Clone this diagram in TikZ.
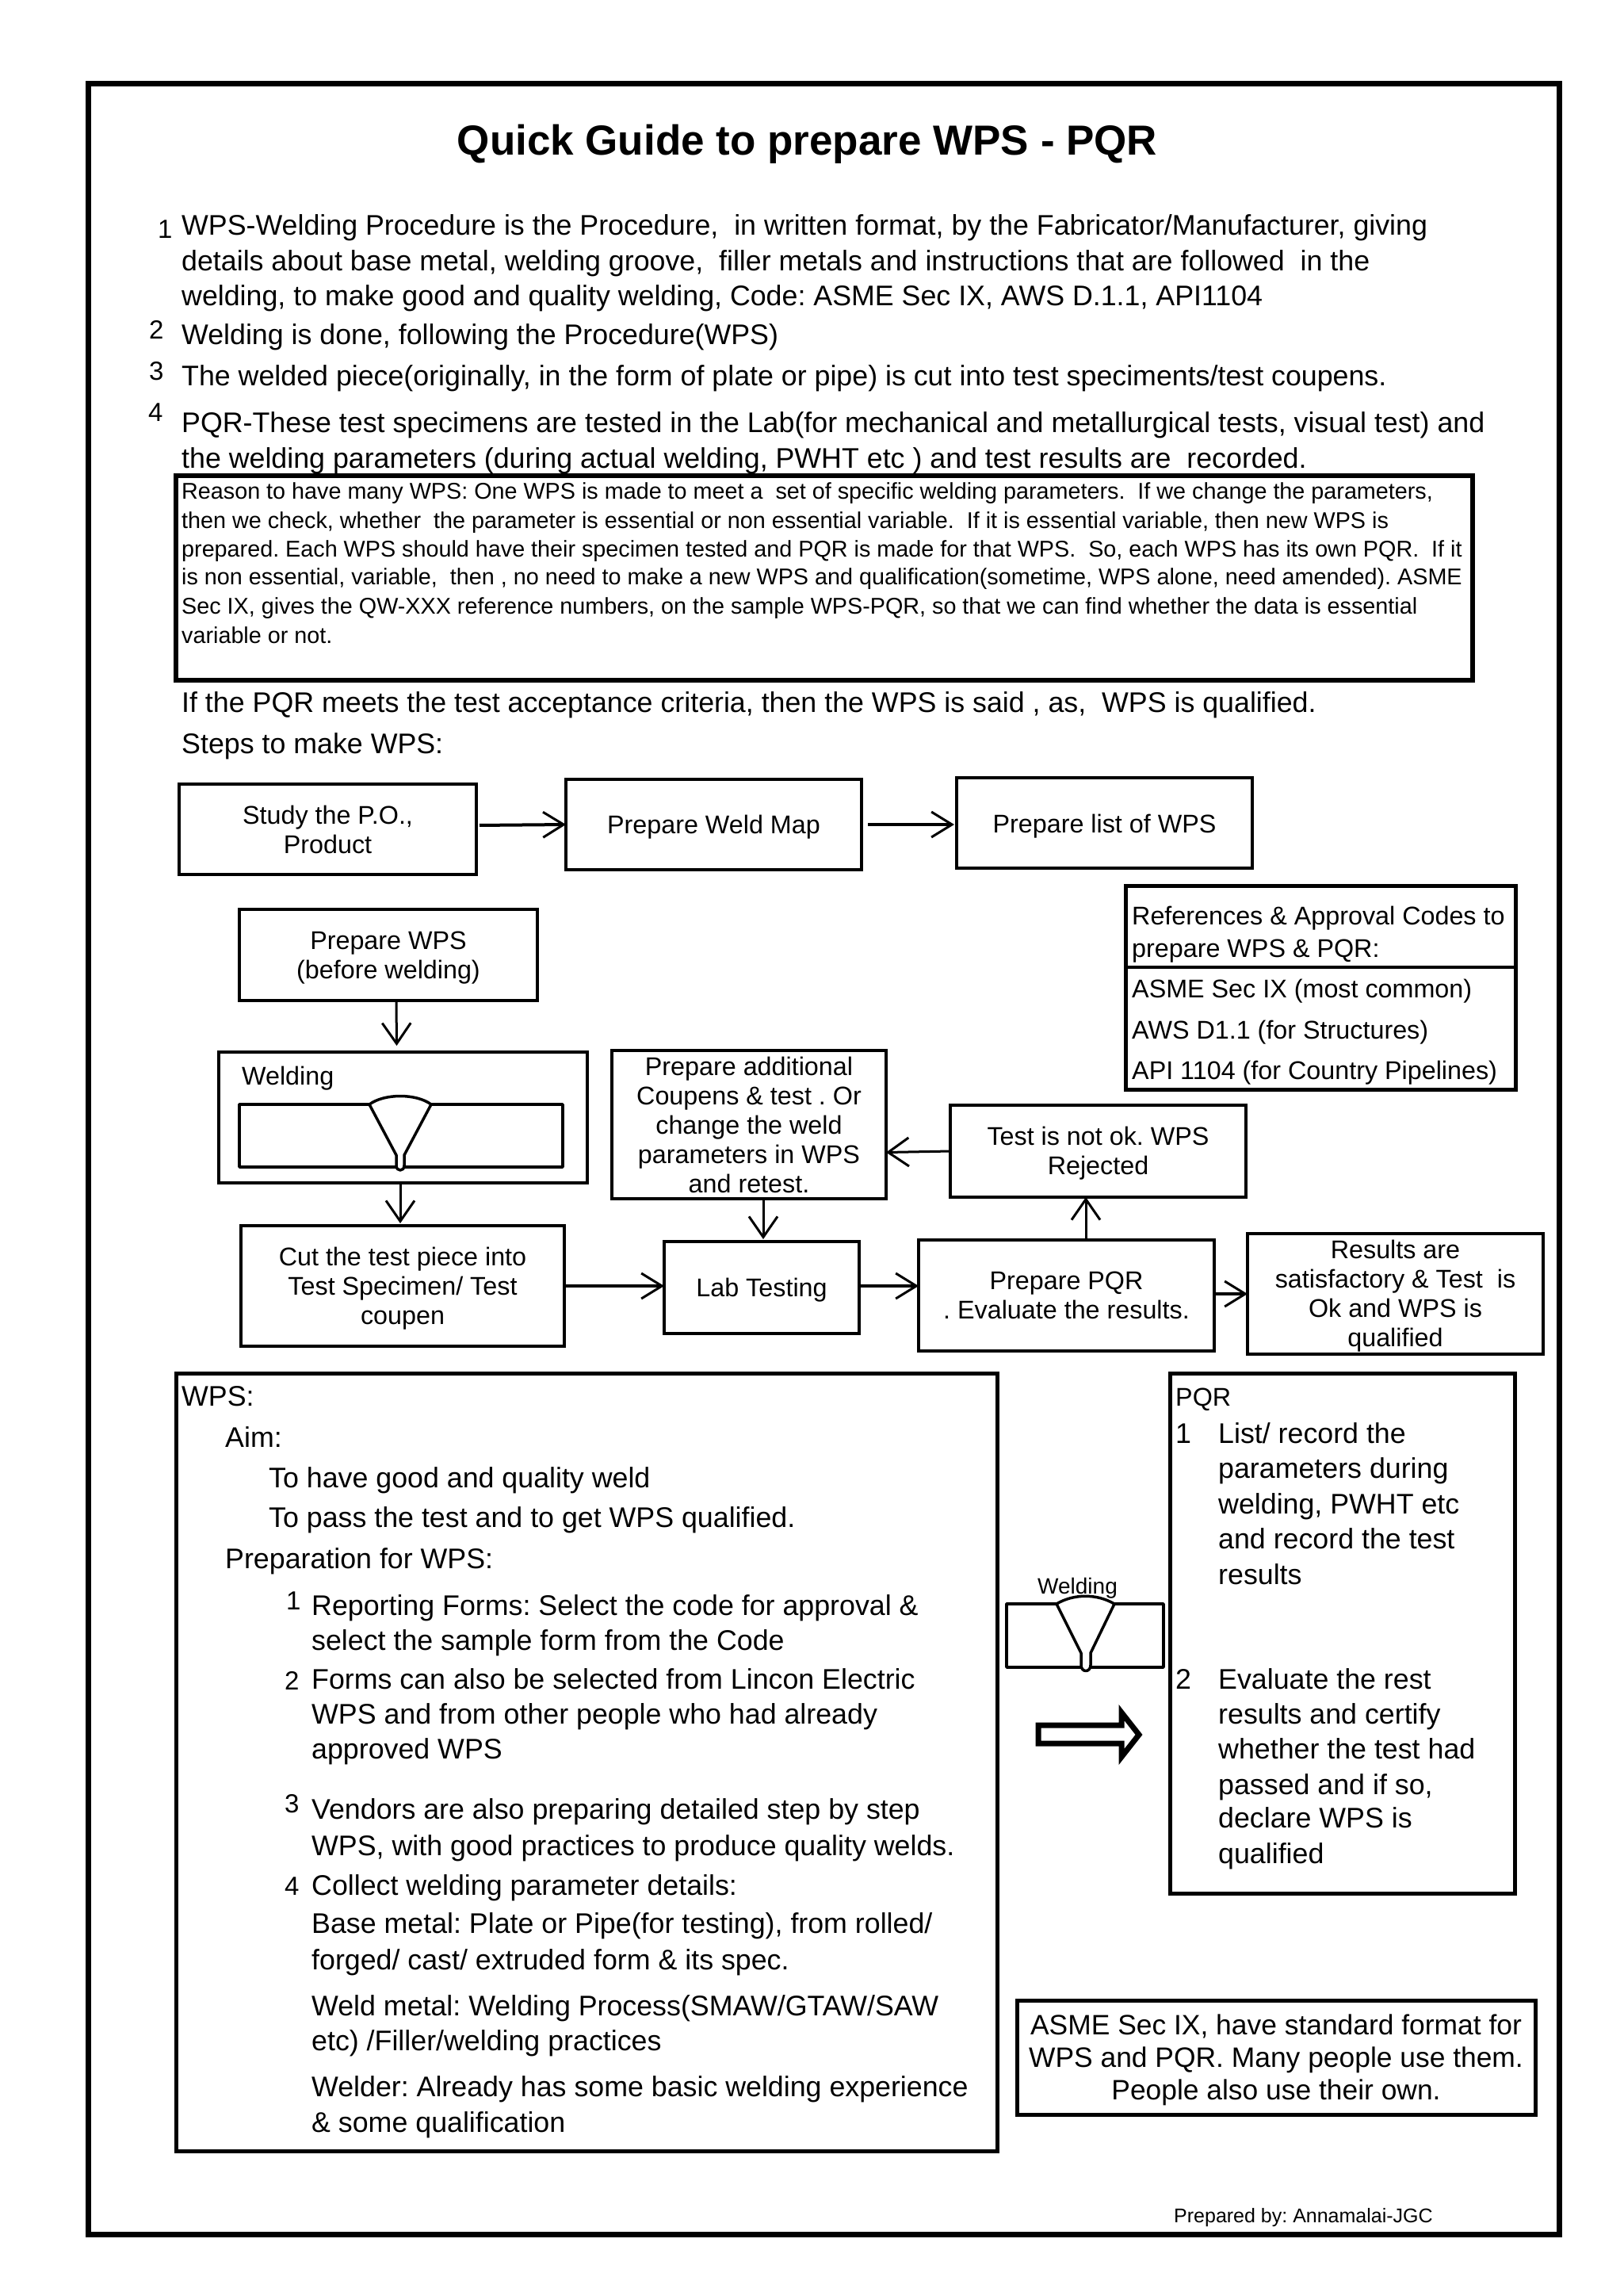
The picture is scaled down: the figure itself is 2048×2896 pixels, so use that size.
\documentclass[tikz,border=0pt]{standalone}
\usepackage{fontspec}
\setmainfont{Liberation Sans}
\usetikzlibrary{arrows.meta}
\newcommand{\fs}[2]{\fontsize{#1}{#2}\selectfont}
\newcommand{\lw}[1]{\rule{0pt}{#1pt}}
\frenchspacing
\tikzset{
 main/.style={anchor=base west,inner sep=0pt,font=\fs{35.77}{45}},
 small/.style={anchor=base west,inner sep=0pt,font=\fs{28.75}{36}},
 numb/.style={anchor=base west,inner sep=0pt,font=\fs{33}{40}},
 reft/.style={anchor=base west,inner sep=0pt,font=\fs{32.3}{37}},
 flowbox/.style={draw,line width=4pt,outer sep=0pt,inner sep=0pt,align=center,font=\fs{32.3}{37}},
 framebox/.style={draw,line width=5pt,outer sep=0pt,inner sep=0pt},
 arr/.style={line width=3pt,-{Straight Barb[length=26pt,width=36pt,line width=3pt]}},
 arrb/.style={line width=4pt,-{Straight Barb[length=26pt,width=32pt,line width=3pt]}},
 metal/.style={line width=3.5pt,line join=round},
}
\begin{document}
\begin{tikzpicture}[x=1pt,y=-1pt]
\useasboundingbox (0,0) rectangle (2048,2896);
\fill[white] (0,0) rectangle (2048,2896);
\node[draw,line width=7pt,outer sep=0pt,inner sep=0pt,minimum width=1856pt,minimum height=2713pt] (outer) at (1039,1461.5) {};
\node[anchor=base,inner sep=0pt,font=\fs{53}{60}\bfseries] (title) at (1018.5,195) {Quick Guide to prepare WPS - PQR};

\node[numb] (n1) at (199,300) {1};
\node[main] (l1a) at (229,296) {WPS-Welding Procedure is the Procedure, ~in written format, by the Fabricator/Manufacturer, giving};
\node[main] (l1b) at (229,341) {details about base metal, welding groove, ~filler metals and instructions that are followed ~in the};
\node[main] (l1c) at (229,385) {welding, to make good and quality welding, Code: ASME Sec IX, AWS D.1.1, API1104};
\node[numb] (n2) at (188,427) {2};
\node[main] (l2) at (229,434) {Welding is done, following the Procedure(WPS)};
\node[numb] (n3) at (188,479) {3};
\node[main] (l3) at (229,486) {The welded piece(originally, in the form of plate or pipe) is cut into test speciments/test coupens.};
\node[numb] (n4) at (187,531) {4};
\node[main] (l4a) at (229,545) {PQR-These test specimens are tested in the Lab(for mechanical and metallurgical tests, visual test) and};
\node[main] (l4b) at (229,590) {the welding parameters (during actual welding, PWHT etc ) and test results are ~recorded.};

\node[framebox,line width=6pt,minimum width=1636pt,minimum height=258pt] (reason) at (1040,729) {};
\node[small] (r1) at (229,629) {Reason to have many WPS: One WPS is made to meet a ~set of specific welding parameters. ~If we change the parameters,};
\node[small] (r2) at (229,666) {then we check, whether ~the parameter is essential or non essential variable. ~If it is essential variable, then new WPS is};
\node[small] (r3) at (229,702) {prepared. Each WPS should have their specimen tested and PQR is made for that WPS. ~So, each WPS has its own PQR. ~If it};
\node[small] (r4) at (229,737) {is non essential, variable, ~then , no need to make a new WPS and qualification(sometime, WPS alone, need amended). ASME};
\node[small] (r5) at (229,774) {Sec IX, gives the QW-XXX reference numbers, on the sample WPS-PQR, so that we can find whether the data is essential};
\node[small] (r6) at (229,811) {variable or not.};

\node[main] (l5) at (229,898) {If the PQR meets the test acceptance criteria, then the WPS is said , as, ~WPS is qualified.};
\node[main] (l6) at (229,950) {Steps to make WPS:};

% flow
\node[flowbox,minimum width=375pt,minimum height=114pt] (study) at (413.5,1046) {Study the P.O.,\\Product};
\node[flowbox,minimum width=373pt,minimum height=114pt] (map) at (900.5,1040) {\lw{30}Prepare Weld Map};
\node[flowbox,minimum width=373pt,minimum height=114pt] (list) at (1393.5,1038) {\lw{32}Prepare list of WPS};
\draw[arrb,shorten <=4pt] ([yshift=5pt]study.east) -- (map.west);
\draw[arrb,shorten <=8pt,shorten >=3pt] (map.east) -- (map.east -| list.west);

\node[flowbox,minimum width=376pt,minimum height=115pt] (pw) at (490,1204.5) {\lw{30}Prepare WPS\\(before welding)};
\node[flowbox,minimum width=465pt,minimum height=165pt] (weld) at (508.5,1409.5) {};
\node[reft] (weldt) at (305,1368) {Welding};
\coordinate (pa) at (302,1393);
\coordinate (pb) at (710,1472);
\draw[metal] (466,1393) -- (pa) -- (pa |- pb) -- (500,1472);
\draw[metal] (544,1393) -- (pb |- pa) -- (pb) -- (510,1472);
\draw[metal] (466,1393) .. controls (485,1379) and (525,1379) .. (544,1393);
\draw[metal] (466,1393) -- (500,1457) -- (500,1470) .. controls (500,1478) and (510,1478) .. (510,1470) -- (510,1457) -- (544,1393);

\node[flowbox,minimum width=346pt,minimum height=187pt] (add) at (945,1418.5) {Prepare additional\\Coupens \& test . Or\\change the weld\\parameters in WPS\\and retest.};
\node[flowbox,minimum width=373pt,minimum height=116pt] (notok) at (1385.5,1452) {\lw{28}Test is not ok. WPS\\Rejected};
\node[flowbox,minimum width=408pt,minimum height=152pt] (cut) at (508,1622) {\lw{30}Cut the test piece into\\Test Specimen/ Test\\coupen};
\node[flowbox,minimum width=246pt,minimum height=116pt] (lab) at (961,1624) {\lw{30}Lab Testing};
\node[flowbox,minimum width=373pt,minimum height=140pt] (pqr) at (1345.5,1634) {Prepare PQR\\. Evaluate the results.};
\node[flowbox,minimum width=373pt,minimum height=152pt] (res) at (1760.5,1632) {\lw{28}Results are\\satisfactory \& Test ~is\\Ok and WPS is\\qualified};

\draw[arr] ([xshift=10pt]pw.south) -- ([xshift=-8pt,yshift=8pt]weld.north);
\draw[arr] ([xshift=-3.5pt]weld.south) -- ([xshift=-3pt,yshift=3pt]cut.north);
\draw[arr] ([xshift=18pt]add.south) -- ([xshift=2pt,yshift=3pt]lab.north);
\draw[arrb] (cut.east) -- (cut.east -| lab.west);
\draw[arrb] ([yshift=2pt]lab.east) -- ([yshift=2pt]lab.east -| pqr.west);
\draw[arrb] (res.west -| pqr.east) -- (res.west);
\draw[arr] ([xshift=24.5pt]pqr.north) -- ([xshift=-15.5pt]notok.south);
\draw[arr] (notok.west) -- ([yshift=-35pt]add.east);

% references
\node[draw,line width=5pt,outer sep=0pt,inner sep=0pt,minimum width=492pt,minimum height=257pt] (refs) at (1666,1245.5) {};
\coordinate (refdiv) at (0,1220);
\draw[line width=4pt] (refs.west |- refdiv) -- (refs.east |- refdiv);
\node[reft] (rf1) at (1428,1166) {References \& Approval Codes to};
\node[reft] (rf2) at (1428,1207) {prepare WPS \& PQR:};
\node[reft] (rf3) at (1428,1258) {ASME Sec IX (most common)};
\node[reft] (rf4) at (1428,1310) {AWS D1.1 (for Structures)};
\node[reft] (rf5) at (1428,1361) {API 1104 (for Country Pipelines)};

% WPS box
\node[framebox,minimum width=1036pt,minimum height=981pt] (wps) at (740,2222.5) {};
\node[main] (w1) at (229,1773) {WPS:};
\node[main] (w2) at (284,1825) {Aim:};
\node[main] (w3) at (339,1876) {To have good and quality weld};
\node[main] (w4) at (339,1926) {To pass the test and to get WPS qualified.};
\node[main] (w5) at (284,1978) {Preparation for WPS:};
\node[numb] (wn1) at (361,2030) {1};
\node[main] (w6) at (393,2037) {Reporting Forms: Select the code for approval \&};
\node[main] (w7) at (393,2081) {select the sample form from the Code};
\node[numb] (wn2) at (359,2131) {2};
\node[main] (w8) at (393,2130) {Forms can also be selected from Lincon Electric};
\node[main] (w9) at (393,2174) {WPS and from other people who had already};
\node[main] (w10) at (393,2218) {approved WPS};
\node[numb] (wn3) at (359,2286) {3};
\node[main] (w11) at (393,2294) {Vendors are also preparing detailed step by step};
\node[main] (w12) at (393,2340) {WPS, with good practices to produce quality welds.};
\node[numb] (wn4) at (359,2390) {4};
\node[main] (w13) at (393,2390) {Collect welding parameter details:};
\node[main] (w14) at (393,2438) {Base metal: Plate or Pipe(for testing), from rolled/};
\node[main] (w15) at (393,2484) {forged/ cast/ extruded form \& its spec.};
\node[main] (w16) at (393,2542) {Weld metal: Welding Process(SMAW/GTAW/SAW};
\node[main] (w17) at (393,2586) {etc) /Filler/welding practices};
\node[main] (w18) at (393,2644) {Welder: Already has some basic welding experience};
\node[main] (w19) at (393,2689) {\& some qualification};

% PQR box
\node[framebox,minimum width=435pt,minimum height=656pt] (pq) at (1693.5,2060) {};
\node[reft] (p0) at (1483,1773) {PQR};
\node[main] (pn1) at (1483,1820) {1};
\node[main] (p1) at (1537,1820) {List/ record the};
\node[main] (p2) at (1537,1864) {parameters during};
\node[main] (p3) at (1537,1909) {welding, PWHT etc};
\node[main] (p4) at (1537,1953) {and record the test};
\node[main] (p5) at (1537,1998) {results};
\node[main] (pn2) at (1483,2130) {2};
\node[main] (p6) at (1537,2130) {Evaluate the rest};
\node[main] (p7) at (1537,2174) {results and certify};
\node[main] (p8) at (1537,2218) {whether the test had};
\node[main] (p9) at (1537,2263) {passed and if so,};
\node[main] (p10) at (1537,2305) {declare WPS is};
\node[main] (p11) at (1537,2350) {qualified};

% middle weld
\node[anchor=base,inner sep=0pt,font=\fs{28}{32}] (mw) at (1359.5,2010) {Welding};
\coordinate (qa) at (1270,2023);
\coordinate (qb) at (1468,2103);
\draw[metal] (1333,2023) -- (qa) -- (qa |- qb) -- (1364,2103);
\draw[metal] (1406,2023) -- (qb |- qa) -- (qb) -- (1376,2103);
\draw[metal] (1333,2023) .. controls (1355,2010) and (1384,2010) .. (1406,2023);
\draw[metal] (1333,2023) -- (1364,2085) -- (1364,2100) .. controls (1364,2110) and (1376,2110) .. (1376,2100) -- (1376,2085) -- (1406,2023);
\draw[line width=7pt,miter limit=10] (1310,2176) -- (1415,2176) -- (1415,2160) -- (1437,2188) -- (1415,2216) -- (1415,2199) -- (1310,2199) -- cycle;

% ASME
\node[framebox,minimum width=654pt,minimum height=144pt,align=center,font=\fs{35.4}{41}] (asme) at (1610,2595) {\lw{32}ASME Sec IX, have standard format for\\WPS and PQR. Many people use them.\\People also use their own.};
\node[anchor=base west,inner sep=0pt,font=\fs{25}{30}] (prep) at (1481,2803) {Prepared by: Annamalai-JGC};
\end{tikzpicture}
\end{document}
